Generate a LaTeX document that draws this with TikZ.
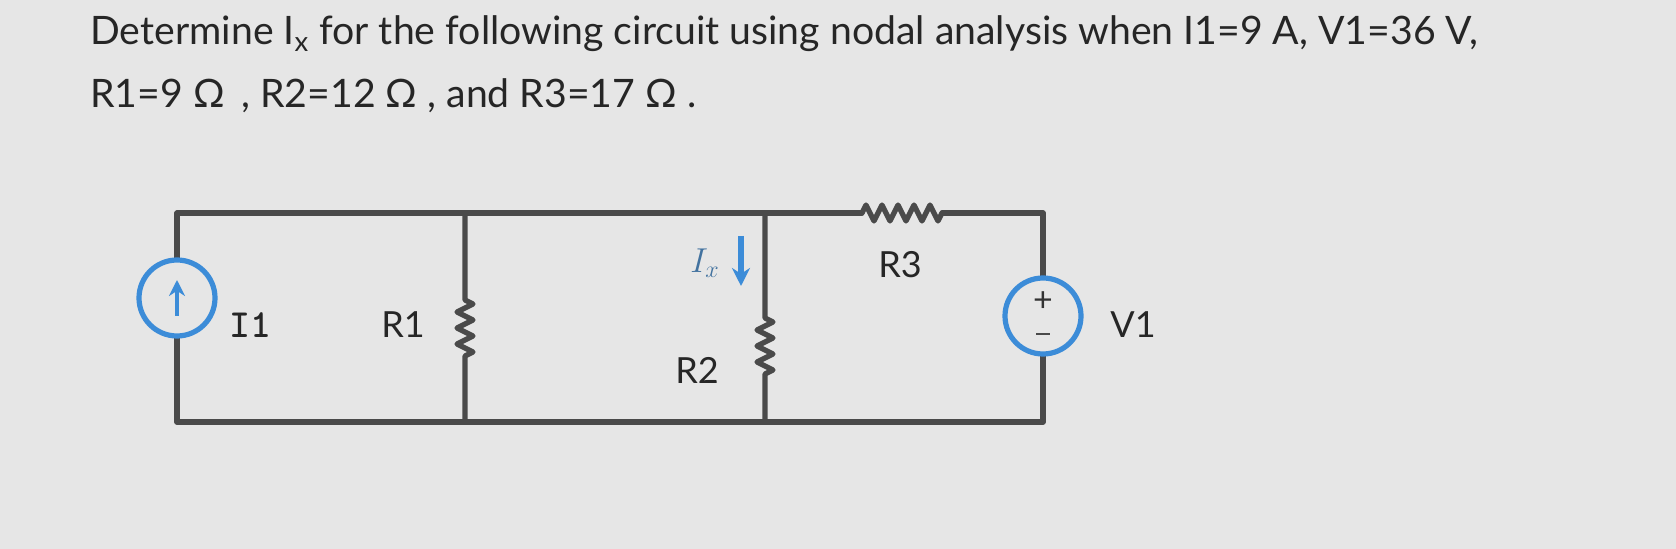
\documentclass[tikz,border=0pt]{standalone}
\usepackage{fontspec}
\setmainfont{Lato}
\usetikzlibrary{arrows.meta}
\definecolor{bg}{HTML}{E6E6E6}
\definecolor{wire}{HTML}{4A4A4A}
\definecolor{src}{HTML}{3C8CD8}
\tikzset{w/.style={draw=wire,line width=2.6pt,line cap=round,line join=round},
 lbl/.style={font=\fontsize{18}{20}\selectfont,text=black!85,inner sep=0},
 hd/.style={font=\fontsize{19.6}{22}\selectfont,text=black!85,inner sep=0},
 srcc/.style={circle,draw=src,line width=2.6pt,minimum size=38pt,fill=bg}}
\begin{document}
\begin{tikzpicture}[x=0.5pt,y=-0.5pt]
\fill[bg] (0,0) rectangle (1676,549);
\useasboundingbox (0,0) rectangle (1676,549);
\node[hd,anchor=base west] (t1) at (90,45) {Determine I\textsubscript{x} for the following circuit using nodal analysis when I1=9 A, V1=36 V,};
\node[hd,anchor=base west] (t2) at (90,108) {R1=9 Ω \,, R2=12 Ω , and R3=17 Ω .};
% corners
\coordinate (tl) at (177,213); \coordinate (bl) at (177,422);
\coordinate (tr) at (1043,213); \coordinate (br) at (1043,422);
\coordinate (t1x) at (465,213); \coordinate (b1x) at (465,422);
\coordinate (t2x) at (765,213); \coordinate (b2x) at (765,422);
\draw[w] (tl) -- (t2x) -- (862,213);
\draw[w] (862,213) -- (866,205) -- (874,221) -- (882,205) -- (890,221) -- (898,205) -- (906,221) -- (914,205) -- (922,221) -- (930,205) -- (938,221) -- (942,213);
\draw[w] (942,213) -- (tr) -- (br) -- (bl) -- (tl);
% R1
\draw[w] (t1x) -- (465,300) -- (473,304) -- (457,312) -- (473,320) -- (457,328) -- (473,336) -- (457,344) -- (473,352) -- (465,356) -- (b1x);
% R2
\draw[w] (t2x) -- (765,318) -- (773,322) -- (757,330) -- (773,338) -- (757,346) -- (773,354) -- (757,362) -- (773,370) -- (765,374) -- (b2x);
% sources
\node[srcc] (I1) at (177,298) {};
\draw[src,line width=2.2pt,-{Stealth[length=8pt,width=8pt]}] (177,316) -- (177,280);
\node[srcc] (V1) at (1043,316) {};
\node[text=black!80,font=\fontsize{17}{17}\selectfont] (plus) at (1043,302) {+};
\draw[wire,line width=1.4pt] (1036,334) -- (1050,334);
% Ix arrow
\draw[src,line width=2.6pt,-{Stealth[length=9pt,width=9pt]}] (741,236) -- (741,286);
\node[font=\fontsize{18}{20}\selectfont\itshape,text=src!60!wire] (ix) at (705,263) {$I_x$};
% labels
\node[lbl,font=\ttfamily\bfseries\fontsize{20}{20}\selectfont] (lI1) at (250,325) {I1};
\node[lbl] (lR1) at (403,325) {R1};
\node[lbl] (lR2) at (697,370) {R2};
\node[lbl] (lR3) at (900,265) {R3};
\node[lbl] (lV1) at (1133,325) {V1};
\end{tikzpicture}
\end{document}
